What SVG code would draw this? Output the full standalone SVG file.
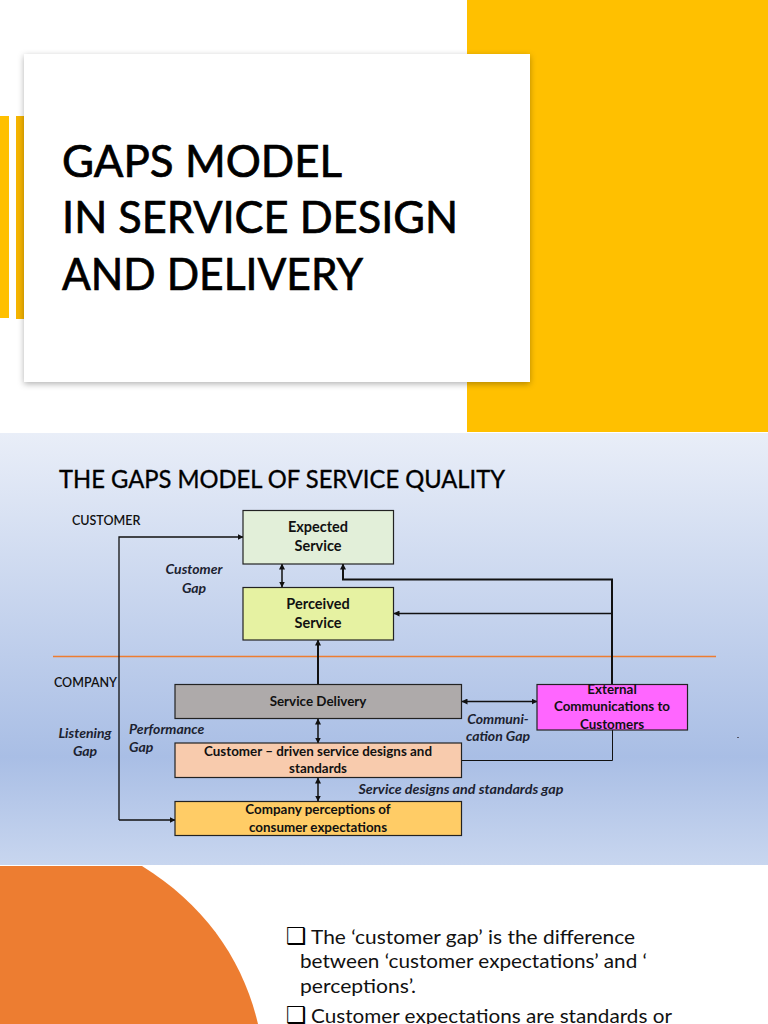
<svg xmlns="http://www.w3.org/2000/svg" width="768" height="1024" viewBox="0 0 768 1024">
<style>
text{font-family:Lato,"Open Sans","Liberation Sans",sans-serif;fill:#111}
.t{font-size:44px;fill:#000;stroke:#000;stroke-width:.7px}
.h{font-size:25px;fill:#000;stroke:#000;stroke-width:.35px}
.b{font-size:14.5px;font-weight:700;text-anchor:middle}
.m{font-size:13.4px;font-weight:700;text-anchor:middle}
.i{font-size:14px;font-weight:700;font-style:italic;text-anchor:middle;fill:#1c2230}
.s{text-anchor:start}
.p{font-size:20px;fill:#111}
.q{font-family:"DejaVu Sans",sans-serif;font-size:23px;font-weight:700;fill:#000}
.n{stroke:#222;stroke-width:1.2}
.c{fill:none;stroke:#111}
</style>
<defs>
<linearGradient id="bg" x1="0" y1="0" x2="0" y2="1"><stop offset="0" stop-color="#e9eef8"/><stop offset=".75" stop-color="#a9bee5"/><stop offset="1" stop-color="#c8d6ef"/></linearGradient>
<filter id="sh" x="-5%" y="-5%" width="110%" height="112%"><feDropShadow dx="0" dy="2" stdDeviation="3" flood-color="#000" flood-opacity=".3"/></filter>
<marker id="a" viewBox="0 0 6 6" refX="5.500" refY="3" markerWidth="6" markerHeight="6" markerUnits="userSpaceOnUse" orient="auto-start-reverse"><path d="M0 0L6 3L0 6Z" fill="#111"/></marker>
</defs>
<rect width="768" height="1024" fill="#fff"/>
<g id="title-slide">
<rect x="467" y="0" width="301" height="432" fill="#ffc000"/>
<rect x="0" y="116" width="9" height="202" fill="#ffc000"/>
<rect x="16" y="116" width="9" height="203" fill="#f5b400"/>
<rect x="24" y="54" width="506" height="328" fill="#fff" filter="url(#sh)"/>
<text class="t" x="62" y="177" textLength="280" lengthAdjust="spacingAndGlyphs">GAPS MODEL</text>
<text class="t" x="62" y="233" textLength="396" lengthAdjust="spacingAndGlyphs">IN SERVICE DESIGN</text>
<text class="t" x="62" y="290" textLength="301" lengthAdjust="spacingAndGlyphs">AND DELIVERY</text>
</g>
<rect id="model-slide" x="0" y="433" width="768" height="432" fill="url(#bg)"/>
<text class="h" x="59" y="488" textLength="446" lengthAdjust="spacingAndGlyphs">THE GAPS MODEL OF SERVICE QUALITY</text>
<line x1="53" y1="656.500" x2="716" y2="656.500" stroke="#ed7d31" stroke-width="1.600"/>
<g id="connectors">
<path class="c" stroke-width="1.300" d="M119 820V537H243" marker-end="url(#a)"/>
<path class="c" stroke-width="1.300" d="M119 820H175" marker-end="url(#a)"/>
<path class="c" stroke-width="1.500" d="M282 564V587" marker-start="url(#a)" marker-end="url(#a)"/>
<path class="c" stroke-width="2" d="M612 684V579.500H343V564" marker-end="url(#a)"/>
<path class="c" stroke-width="1.500" d="M612 613.500H394" marker-end="url(#a)"/>
<path class="c" stroke-width="2" d="M318 684V640" marker-end="url(#a)"/>
<path class="c" stroke-width="1.500" d="M318 719V743" marker-start="url(#a)" marker-end="url(#a)"/>
<path class="c" stroke-width="1.500" d="M318 778V801" marker-start="url(#a)" marker-end="url(#a)"/>
<path class="c" stroke-width="1.500" d="M462 701.500H537" marker-start="url(#a)" marker-end="url(#a)"/>
<path class="c" stroke-width="1" d="M462 760.500H612.500V730"/>
</g>
<g id="expected-service"><rect class="n" x="243" y="510.500" width="150.500" height="53.500" fill="#e2efd9"/><text class="b" x="318" y="532">Expected</text><text class="b" x="318" y="551">Service</text></g>
<g id="perceived-service"><rect class="n" x="243" y="587.500" width="150.500" height="52.500" fill="#e6f2a2"/><text class="b" x="318" y="609">Perceived</text><text class="b" x="318" y="628">Service</text></g>
<g id="service-delivery"><rect class="n" x="175" y="684.500" width="286.500" height="34" fill="#aeaaaa"/><text class="m" x="318" y="706">Service Delivery</text></g>
<g id="service-designs"><rect class="n" x="175" y="743" width="286.500" height="34.500" fill="#f8cbad"/><text class="m" x="318" y="756">Customer – driven service designs and</text><text class="m" x="318" y="773">standards</text></g>
<g id="company-perceptions"><rect class="n" x="175" y="801.500" width="286.500" height="34" fill="#ffcc66"/><text class="m" x="318" y="814">Company perceptions of</text><text class="m" x="318" y="832">consumer expectations</text></g>
<g id="external-communications"><rect class="n" x="537" y="684.500" width="150.500" height="45.500" fill="#ff66ff"/><text class="m" x="612" y="694">External</text><text class="m" x="612" y="711">Communications to</text><text class="m" x="612" y="729">Customers</text></g>
<text x="72" y="525" font-size="12.500" font-weight="600">CUSTOMER</text>
<text x="54" y="687" font-size="12.500" font-weight="600">COMPANY</text>
<text class="i" x="194" y="574">Customer</text><text class="i" x="194" y="593">Gap</text>
<text class="i" x="85" y="738">Listening</text><text class="i" x="85" y="756">Gap</text>
<text class="i s" x="129" y="734">Performance</text><text class="i s" x="129" y="752">Gap</text>
<text class="i" x="498" y="724">Communi-</text><text class="i" x="498" y="741">cation Gap</text>
<text class="i" x="461" y="794" textLength="205" lengthAdjust="spacingAndGlyphs">Service designs and standards gap</text>
<rect x="737" y="737" width="2" height="1" fill="#556"/>
<path d="M0 866H142C205 905 243 960 258 1024H0Z" fill="#ed7d31"/>
<text class="q" x="286" y="944">❑</text>
<text class="p" x="311" y="944" textLength="324" lengthAdjust="spacingAndGlyphs">The ‘customer gap’ is the difference</text>
<text class="p" x="300" y="968" textLength="347" lengthAdjust="spacingAndGlyphs">between ‘customer expectations’ and ‘</text>
<text class="p" x="300" y="993" textLength="116" lengthAdjust="spacingAndGlyphs">perceptions’.</text>
<text class="q" x="286" y="1023">❑</text>
<text class="p" x="311" y="1023" textLength="361" lengthAdjust="spacingAndGlyphs">Customer expectations are standards or</text>
</svg>
